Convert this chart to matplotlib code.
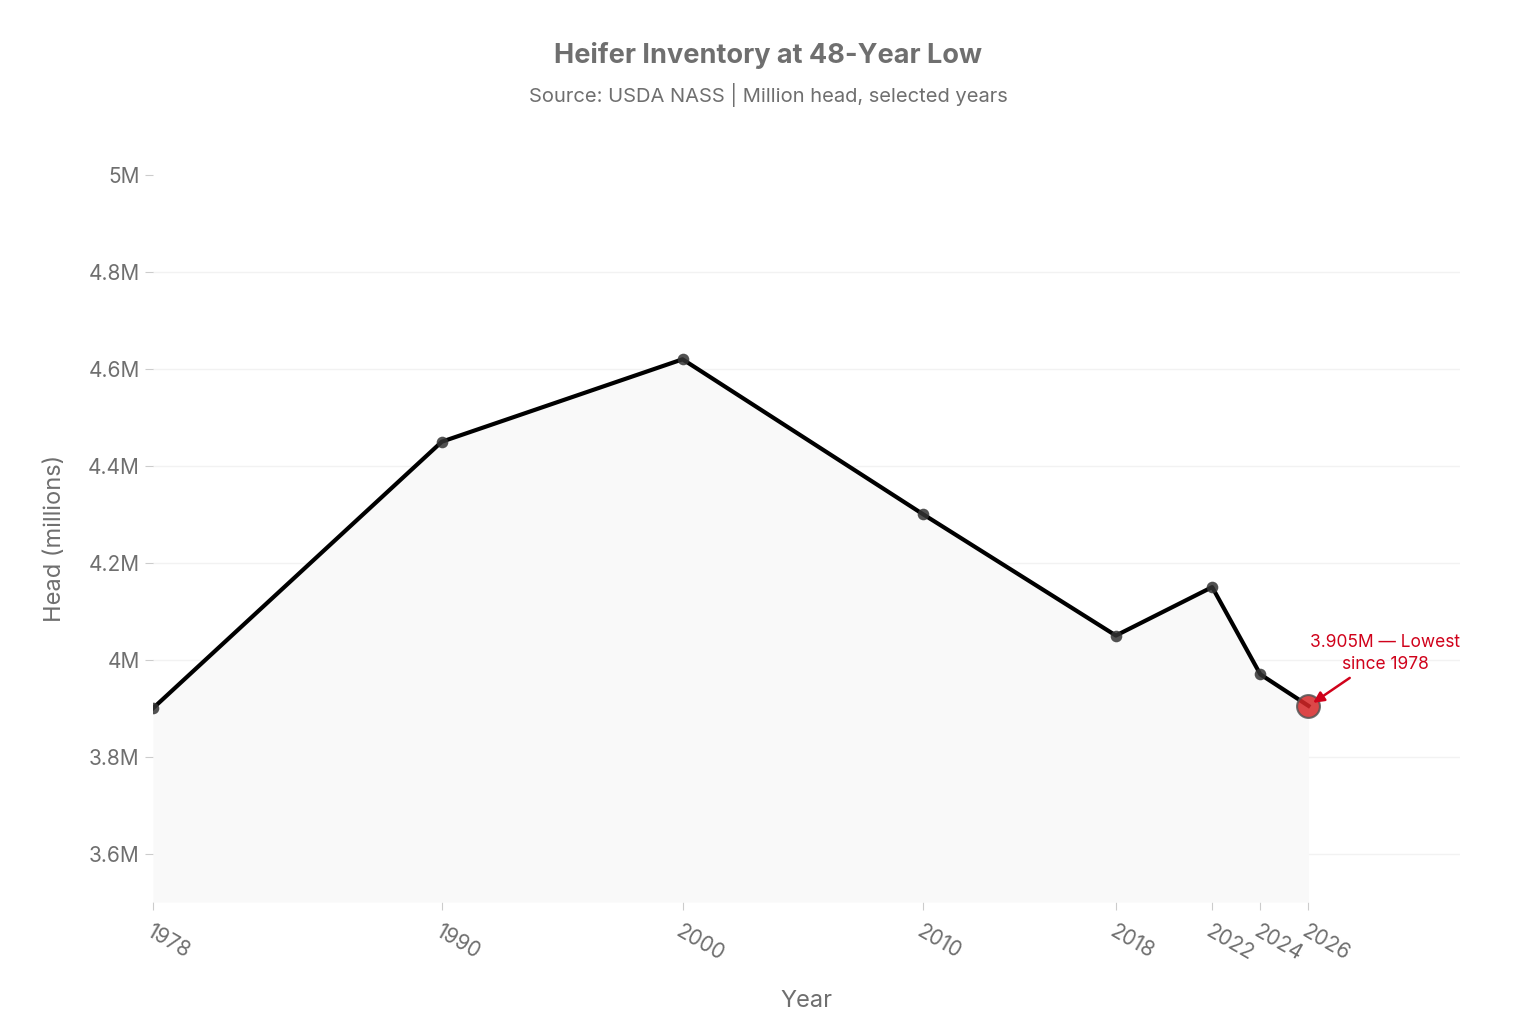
import matplotlib
matplotlib.use("Agg")
import matplotlib.pyplot as plt

years = [1978, 1990, 2000, 2010, 2018, 2022, 2024, 2026]
heifers_m = [3.90, 4.45, 4.62, 4.30, 4.05, 4.15, 3.97, 3.905]
y_ticks = [3.6, 3.8, 4.0, 4.2, 4.4, 4.6, 4.8, 5.0]
y_tick_labels = ["3.6M", "3.8M", "4M", "4.2M", "4.4M", "4.6M", "4.8M", "5M"]
x_tick_labels = [str(y) for y in years]
title = "Heifer Inventory at 48-Year Low"
subtitle = "Source: USDA NASS | Million head, selected years"
note = "3.905M — Lowest\nsince 1978"

plt.rcParams['font.family'] = ['Inter', 'DejaVu Sans']
grey = "#6f6f6f"

fig = plt.figure(figsize=(15.36, 10.24), dpi=100)
ax = fig.add_axes([0.0996, 0.119, 0.851, 0.710])

ax.fill_between(years, heifers_m, 3.5, color="#f9f9f9", zorder=1, linewidth=0)
ax.plot(years, heifers_m, color="black", linewidth=3, zorder=3)
ax.scatter(years[:-1], heifers_m[:-1], s=70, color="#333333", alpha=0.85, zorder=4, linewidths=0)
ax.scatter([years[-1]], [heifers_m[-1]], s=270, color="#d62728", alpha=0.85,
           edgecolors="#555555", linewidths=1.5, zorder=5)

ax.annotate(note, xy=(years[-1] + 0.1, heifers_m[-1] + 0.003),
            xytext=(years[-1] + 3.2, 4.013), ha="center", va="center",
            color="#d0021b", fontsize=12.5, linespacing=1.35,
            arrowprops=dict(arrowstyle="-|>", color="#d0021b", lw=1.8,
                            mutation_scale=16, shrinkA=3, shrinkB=2), zorder=6)

ax.set_xlim(1978, 2032.3)
ax.set_ylim(3.5, 5.0)
ax.set_yticks(y_ticks)
ax.set_yticklabels(y_tick_labels)
ax.set_xticks(years)
ax.set_xticklabels(x_tick_labels, rotation=-30, ha="left", rotation_mode="anchor")

for s in ax.spines.values():
    s.set_visible(False)
ax.grid(axis="y", color="#f2f2f2", linewidth=1, zorder=0)
ax.yaxis.get_gridlines()[-1].set_visible(False)
ax.set_axisbelow(True)
ax.tick_params(axis="both", colors="#cccccc", labelcolor=grey, labelsize=15, length=6)
ax.tick_params(axis="x", pad=8)

ax.set_xlabel("Year", fontsize=17, color=grey, labelpad=18)
ax.set_ylabel("Head (millions)", fontsize=17, color=grey, labelpad=16)

fig.text(0.5, 0.946, title, ha="center", va="center", fontsize=19.5, fontweight="bold", color=grey)
fig.text(0.5, 0.907, subtitle, ha="center", va="center", fontsize=14.5, color=grey)

fig.savefig("out.png", dpi=100, facecolor="white")
